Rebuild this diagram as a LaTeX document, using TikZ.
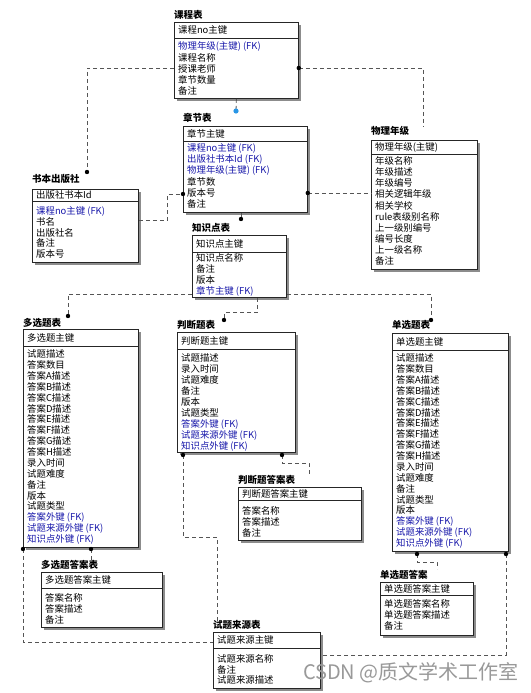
\documentclass[tikz,border=0pt]{standalone}
\usepackage{fontspec}
\setmainfont{Noto Sans CJK SC}
\usetikzlibrary{shadows}
\definecolor{fkblue}{RGB}{24,24,170}
\definecolor{conn}{RGB}{85,85,85}
\definecolor{seldot}{RGB}{40,150,230}
\newcommand\fk[1]{\textcolor{fkblue}{#1}}
% name, title, L, R, T, S, B, title y, header
\newcommand\erbox[9]{%
  \node[ttl] (#1-t) at (#3,#8) {#2};
  \node[tbox, minimum width={(#4)-(#3)}, minimum height={(#7)-(#5)}] (#1) at (#3,#5) {};
  \draw[sepline] (#1.west |- 0,#6) -- (#1.east |- 0,#6);
  \node[item] (#1-h) at (#3+4,{(#5+#6)/2}) {#9};
}
% name, x, first y, spacing, list
\newcommand\eritems[5]{%
  \foreach \t [count=\i] in {#5} {\node[item] (#1-\i) at (#2,{#3+(\i-1)*#4}) {\t};}
}
\tikzset{
  ttl/.style={anchor=west, inner sep=0pt, font=\bfseries\fontsize{9.5}{10}\selectfont},
  item/.style={anchor=west, inner sep=0pt, font=\fontsize{9.4}{10}\selectfont},
  tbox/.style={draw=black!85, line width=0.8pt, fill=white, anchor=north west, inner sep=0pt,
    drop shadow={shadow xshift=3pt, shadow yshift=-3pt, fill=black!45, opacity=1}},
  sepline/.style={draw=black!85, line width=0.7pt},
  rel/.style={draw=conn, line width=0.8pt, dash pattern=on 4pt off 3pt},
  dotc/.style={fill=black},
  wm/.style={anchor=east, inner sep=0pt, text=black!40, font=\fontsize{20}{22}\selectfont}
}
\begin{document}
\begin{tikzpicture}[x=1pt,y=-1pt]
\useasboundingbox[fill=white] (0,0) rectangle (530,693);

\erbox{kc}{课程表}{174}{298}{22}{38}{98}{15}{课程no主键}
\eritems{kc}{178}{46.5}{11}{{\fk{物理年级(主键) (FK)}},课程名称,授课老师,章节数量,备注}

\erbox{zj}{章节表}{183}{307}{126}{141}{212}{118}{章节主键}
\eritems{zj}{187}{148}{11.2}{{\fk{课程no主键 (FK)}},{\fk{出版社书本Id (FK)}},{\fk{物理年级(主键) (FK)}},章节数,版本号,备注}

\erbox{cb}{书本出版社}{32}{138}{189}{201}{262}{179}{出版社书本Id}
\eritems{cb}{36}{211}{10.8}{{\fk{课程no主键 (FK)}},书名,出版社名,备注,版本号}

\erbox{wl}{物理年级}{371}{477}{140}{154}{269}{131}{物理年级(主键)}
\eritems{wl}{375}{161}{11.1}{年级名称,年级描述,年级编号,相关逻辑年级,相关学校,rule表级别名称,上一级别编号,编号长度,上一级名称,备注}

\erbox{zs}{知识点表}{192}{286}{235}{252}{297}{228}{知识点主键}
\eritems{zs}{196}{258}{11}{知识点名称,备注,版本,{\fk{章节主键 (FK)}}}

\erbox{dx}{多选题表}{23}{138}{329}{346}{547}{323}{多选题主键}
\eritems{dx}{27}{354}{10.88}{试题描述,答案数目,答案A描述,答案B描述,答案C描述,答案D描述,答案E描述,答案F描述,答案G描述,答案H描述,录入时间,试题难度,备注,版本,试题类型,{\fk{答案外键 (FK)}},{\fk{试题来源外键 (FK)}},{\fk{知识点外键 (FK)}}}

\erbox{pd}{判断题表}{177}{295}{332}{349}{452}{325}{判断题主键}
\eritems{pd}{181}{358}{11}{试题描述,录入时间,试题难度,备注,版本,试题类型,{\fk{答案外键 (FK)}},{\fk{试题来源外键 (FK)}},{\fk{知识点外键 (FK)}}}

\erbox{dan}{单选题表}{392}{508}{333}{350}{551}{325}{单选题主键}
\eritems{dan}{396}{358}{10.88}{试题描述,答案数目,答案A描述,答案B描述,答案C描述,答案D描述,答案E描述,答案F描述,答案G描述,答案H描述,录入时间,试题难度,备注,试题类型,版本,{\fk{答案外键 (FK)}},{\fk{试题来源外键 (FK)}},{\fk{知识点外键 (FK)}}}

\erbox{pda}{判断题答案表}{238}{361}{487}{500}{540}{480}{判断题答案主键}
\eritems{pda}{242}{511}{11}{答案名称,答案描述,备注}

\erbox{dxa}{多选题答案表}{41}{162}{572}{588}{627}{565}{多选题答案主键}
\eritems{dxa}{45}{598}{11}{答案名称,答案描述,备注}

\erbox{dana}{单选题答案}{380}{473}{582}{595}{635}{575}{单选题答案主键}
\eritems{dana}{384}{604}{11}{单选题答案名称,单选题答案描述,备注}

\erbox{ly}{试题来源表}{213}{320}{632}{648}{688}{625}{试题来源主键}
\eritems{ly}{217}{659}{10.5}{试题来源名称,备注,试题来源描述}

% connectors
\coordinate (a1) at (87,172);
\draw[rel] (kc.west|-0,68) -| (a1);
\fill[dotc] (a1) circle (2.2pt);

\coordinate (b0) at (kc.east|-0,68);
\coordinate (b1) at (423,127);
\draw[rel] (b0) -| (b1);
\fill[dotc] (b0) circle (2.2pt);

\coordinate (c1) at (236,111);
\draw[rel] (kc.south) -- (c1);
\fill[seldot] (c1) circle (2.6pt);

\coordinate (d1) at (zj.west|-0,194);
\draw[rel] (cb.east|-0,220) -- ++(29,0) |- (d1);
\fill[dotc] (d1) circle (2.2pt);

\coordinate (e0) at (zj.east|-0,193);
\draw[rel] (e0) -- (wl.west|-0,193);
\fill[dotc] (e0) circle (2.2pt);

\coordinate (f1) at (241,219);
\draw[rel] (zj.south-|f1) -- (f1);
\fill[dotc] (f1) circle (2.2pt);

\coordinate (g1) at (68,316);
\draw[rel] (zs.west|-0,294) -| (g1);
\fill[dotc] (g1) circle (2.2pt);

\coordinate (h1) at (431,320);
\draw[rel] (zs.east|-0,294) -| (h1);
\fill[dotc] (h1) circle (2.2pt);

\coordinate (i1) at (224,320);
\draw[rel] (zs.south-|257,0) -- ++(0,15) -| (i1);
\fill[dotc] (i1) circle (2.2pt);

\coordinate (j0) at (23,549);
\draw[rel] (j0) |- (ly.west|-0,642);
\fill[dotc] (j0) circle (2.2pt);

\coordinate (k0) at (91,549);
\coordinate (k1) at (91,562);
\draw[rel] (k0) -- (k1);
\fill[dotc] (k0) circle (2.2pt);

\coordinate (l0) at (183,455);
\coordinate (l1) at (217,627);
\draw[rel] (l0) -- ++(0,82) -| (l1);
\fill[dotc] (l0) circle (2.2pt);

\coordinate (m0) at (282,455);
\coordinate (m1) at (309,474);
\draw[rel] (m0) -- ++(0,8) -| (m1);
\fill[dotc] (m0) circle (2.2pt);

\coordinate (n0) at (417,554);
\coordinate (n1) at (437,569);
\draw[rel] (n0) -- ++(0,8) -| (n1);
\fill[dotc] (n0) circle (2.2pt);

\coordinate (o0) at (506,554);
\draw[rel] (o0) |- (ly.east|-0,655);
\fill[dotc] (o0) circle (2.2pt);

\node[wm] (wm) at (519,673) {CSDN @质文学术工作室};
\end{tikzpicture}
\end{document}
